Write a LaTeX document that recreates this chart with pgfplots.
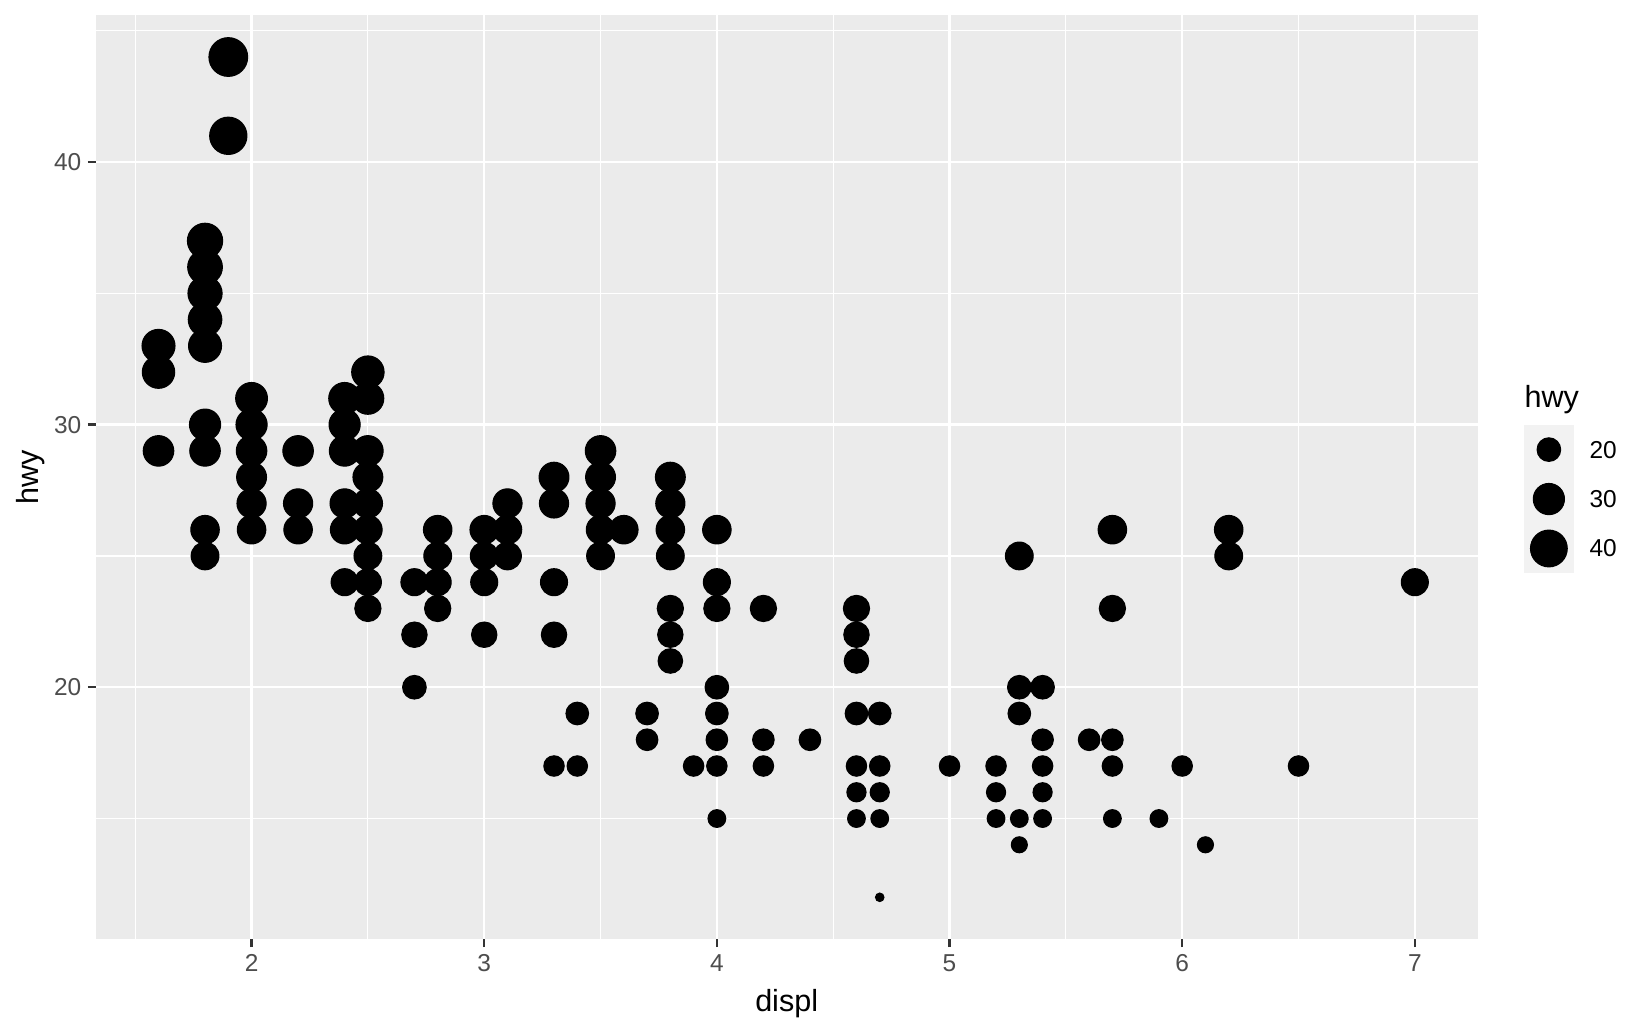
\documentclass[border=0pt]{standalone}
\usepackage{pgfplots}
\pgfplotsset{compat=1.18}
\usepackage{fontspec}
\setmainfont{Liberation Sans}
\definecolor{grey92}{HTML}{EBEBEB}
\definecolor{grey95}{HTML}{F2F2F2}
\definecolor{grey20}{HTML}{333333}
\definecolor{grey30}{HTML}{4D4D4D}
\pgfplotsset{
  ggpoints/.style={
    scatter, only marks, mark=*,
    scatter/use mapped color={draw=none, fill=black},
    visualization depends on={1.521+5.445*sqrt((\thisrow{hwy}-12)/32) \as \msz},
    scatter/@pre marker code/.append style={/tikz/mark size=\msz},
  }
}
\begin{document}
\begin{tikzpicture}
\fill[white] (0,0) rectangle (594pt,371.16pt);
\useasboundingbox (0,0) rectangle (594pt,371.16pt);
\begin{axis}[
  at={(34.45pt,33pt)}, anchor=south west,
  scale only axis, width=497.5pt, height=332.75pt,
  xmin=1.33, xmax=7.27, ymin=10.4, ymax=45.6,
  axis background/.style={fill=grey92},
  axis line style={draw=none},
  xtick={2,3,4,5,6,7}, xticklabels={2,3,4,5,6,7},
  ytick={20,30,40}, yticklabels={20,30,40},
  minor xtick={1.5,2.5,3.5,4.5,5.5,6.5},
  minor ytick={15,25,35,45},
  grid=both,
  major grid style={white, line width=0.85pt},
  minor grid style={white, line width=0.43pt},
  tick align=outside, tick pos=left,
  major tick length=2.77pt, minor tick length=0pt,
  major tick style={grey20, line width=0.85pt},
  tick label style={font=\fontsize{8.8}{10}\selectfont, text=grey30, inner sep=0pt},
  xticklabel style={yshift=-2.4pt},
  yticklabel style={xshift=-2.2pt},
  xlabel={displ}, ylabel={hwy},
  label style={font=\fontsize{11}{13}\selectfont},
  xlabel style={at={(axis description cs:0.5,-0.0784)}, anchor=base, inner sep=0pt},
  ylabel style={at={(axis description cs:-0.0415,0.5)}, anchor=base, inner sep=0pt},
]
\addplot[ggpoints] table[x=displ, y=hwy] {
displ hwy
1.6 33
1.6 32
1.6 29
1.8 37
1.8 36
1.8 35
1.8 34
1.8 33
1.8 30
1.8 29
1.8 26
1.8 25
1.9 44
1.9 41
2.0 31
2.0 30
2.0 29
2.0 28
2.0 27
2.0 26
2.2 29
2.2 27
2.2 26
2.4 31
2.4 30
2.4 29
2.4 27
2.4 26
2.4 24
2.5 32
2.5 31
2.5 29
2.5 28
2.5 27
2.5 26
2.5 25
2.5 24
2.5 23
2.7 24
2.7 22
2.7 20
2.8 26
2.8 25
2.8 24
2.8 23
3.0 26
3.0 25
3.0 24
3.0 22
3.1 27
3.1 26
3.1 25
3.3 28
3.3 27
3.3 24
3.3 22
3.3 17
3.4 19
3.4 17
3.5 29
3.5 28
3.5 27
3.5 26
3.5 25
3.6 26
3.7 19
3.7 18
3.8 28
3.8 27
3.8 26
3.8 25
3.8 23
3.8 22
3.8 21
3.9 17
4.0 26
4.0 24
4.0 23
4.0 20
4.0 19
4.0 18
4.0 17
4.0 15
4.2 23
4.2 18
4.2 17
4.4 18
4.6 23
4.6 22
4.6 21
4.6 19
4.6 17
4.6 16
4.6 15
4.7 19
4.7 17
4.7 16
4.7 15
4.7 12
5.0 17
5.2 17
5.2 16
5.2 15
5.3 25
5.3 20
5.3 19
5.3 15
5.3 14
5.4 20
5.4 18
5.4 17
5.4 16
5.4 15
5.6 18
5.7 26
5.7 23
5.7 18
5.7 17
5.7 15
5.9 15
6.0 17
6.1 14
6.2 26
6.2 25
6.5 17
7.0 24
};
\end{axis}
\begin{axis}[
  at={(548.64pt,164.8pt)}, anchor=south west,
  scale only axis, width=17.9pt, height=53.4pt,
  xmin=0, xmax=1, ymin=0, ymax=3, y dir=reverse,
  axis background/.style={fill=grey95},
  axis line style={draw=none},
  xtick=\empty, ytick={0.5,1.5,2.5}, yticklabels={20,30,40},
  ytick pos=right, yticklabel pos=right, major tick length=0pt,
  yticklabel style={anchor=west, inner sep=0pt, xshift=5.5pt, font=\fontsize{8.8}{10}\selectfont, text=black},
  every axis title shift=0pt,
  title={hwy},
  title style={at={(axis description cs:0,1.115)}, anchor=base west, inner sep=0pt, font=\fontsize{11}{13}\selectfont},
  clip=false,
]
\addplot[ggpoints] table[x=x, y=y] {
x y hwy
0.5 0.5 20
0.5 1.5 30
0.5 2.5 40
};
\end{axis}
\end{tikzpicture}
\end{document}
